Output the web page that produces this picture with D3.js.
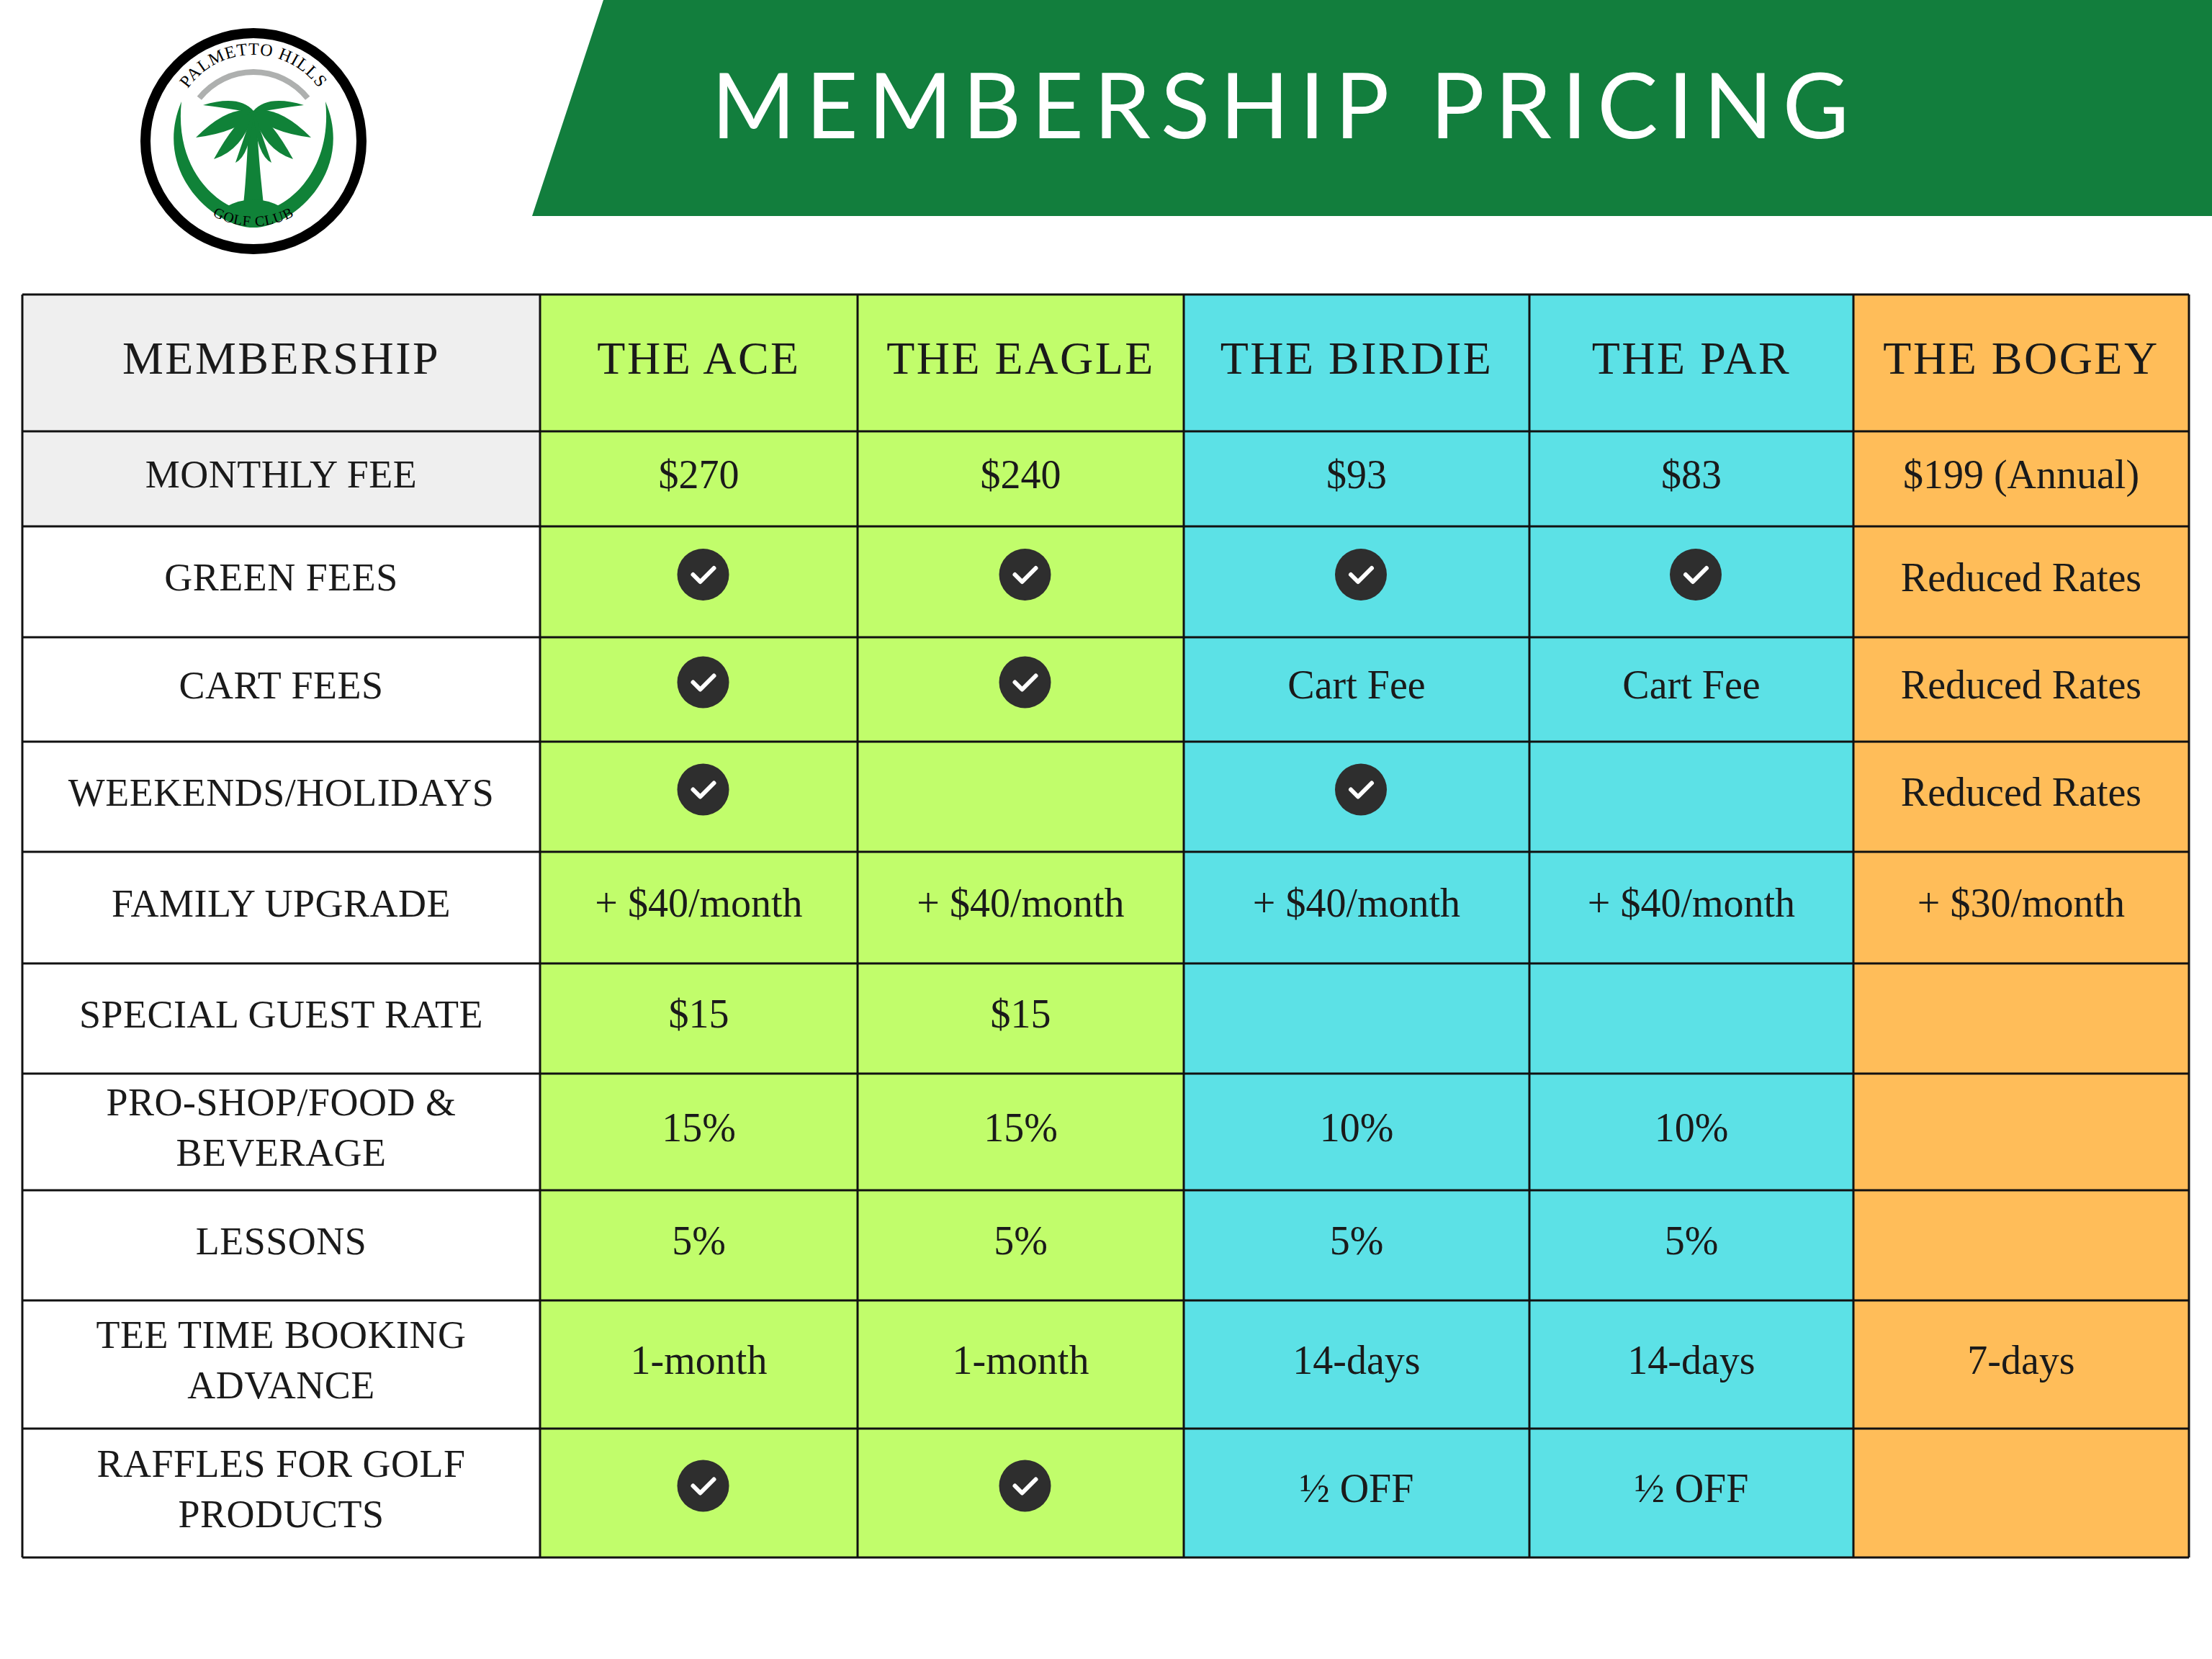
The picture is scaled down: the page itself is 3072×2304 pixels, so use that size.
<!DOCTYPE html>
<html><head><meta charset="utf-8">
<script src="https://cdn.jsdelivr.net/npm/d3@7"></script>
<style>body{margin:0;background:#fff}svg{display:block}</style></head>
<body><script>
const title = "MEMBERSHIP PRICING";
const tiers = ["THE ACE","THE EAGLE","THE BIRDIE","THE PAR","THE BOGEY"];
const tierColors = ["#c1fd6b","#c1fd6b","#5ce1e6","#5ce1e6","#ffbd59"];
const features = ["MONTHLY FEE","GREEN FEES","CART FEES","WEEKENDS/HOLIDAYS","FAMILY UPGRADE","SPECIAL GUEST RATE","PRO-SHOP/FOOD &\nBEVERAGE","LESSONS","TEE TIME BOOKING\nADVANCE","RAFFLES FOR GOLF\nPRODUCTS"];
const aceVals    = ["$270","✓","✓","✓","+ $40/month","$15","15%","5%","1-month","✓"];
const eagleVals  = ["$240","✓","✓","","+ $40/month","$15","15%","5%","1-month","✓"];
const birdieVals = ["$93","✓","Cart Fee","✓","+ $40/month","","10%","5%","14-days","½ OFF"];
const parVals    = ["$83","✓","Cart Fee","","+ $40/month","","10%","5%","14-days","½ OFF"];
const bogeyVals  = ["$199 (Annual)","Reduced Rates","Reduced Rates","Reduced Rates","+ $30/month","","","","7-days",""];
const values = [aceVals,eagleVals,birdieVals,parVals,bogeyVals];

const W=3072,H=2304;
const svg=d3.select("body").append("svg").attr("width",W).attr("height",H);
svg.append("path").attr("d","M838,0L3072,0L3072,300L739,300Z").attr("fill","#127e3d");
svg.append("text").attr("x",1785).attr("y",160).attr("dominant-baseline","middle").attr("text-anchor","middle")
 .attr("font-family","Lato, sans-serif").attr("font-size",126).attr("letter-spacing",14).attr("fill","#fff").text(title);

const lg=svg.append("g").attr("transform","translate(352,196)");
lg.append("circle").attr("r",150).attr("fill","#fff").attr("stroke","#000").attr("stroke-width",14);
lg.append("path").attr("d",d3.arc()({innerRadius:92,outerRadius:100,startAngle:-0.9,endAngle:0.9})).attr("fill","#aeb0af");
lg.append("path").attr("d","M-100,-55 C-140,40 -60,115 -5,120 L5,120 C60,115 140,40 100,-55 C110,40 50,95 0,100 C-50,95 -110,40 -100,-55Z").attr("fill","#108238");
lg.append("path").attr("d","M-6,-40 C-8,10 -10,50 -14,88 L14,88 C10,50 6,10 4,-40Z").attr("fill","#108238");
lg.append("path").attr("d","M-40,92 Q0,70 40,92 L40,105 L-40,105Z").attr("fill","#108238");
const fr=[[-70,-50,-20,-65],[70,-50,20,-65],[-80,-5,-35,-50],[80,-5,35,-50],[-55,25,-25,-30],[55,25,25,-30],[-25,30,-8,-20],[25,30,8,-20]];
fr.forEach(f=>lg.append("path").attr("d",`M0,-42 Q${f[2]},${f[3]} ${f[0]},${f[1]} Q${f[2]*0.6},${(f[3]+f[1])/2+15} 0,-38Z`).attr("fill","#108238"));
lg.append("path").attr("id","ltop").attr("d","M-100,0 A100,100 0 0 1 100,0").attr("fill","none").attr("transform","translate(0,-8) scale(1.12)");
lg.append("text").attr("font-family","Liberation Serif, serif").attr("font-size",24).attr("letter-spacing",1)
 .append("textPath").attr("href","#ltop").attr("startOffset","50%").attr("text-anchor","middle").text("PALMETTO HILLS");
lg.append("path").attr("id","lbot").attr("d","M-118,0 A118,118 0 0 0 118,0").attr("fill","none");
lg.append("text").attr("font-family","Liberation Serif, serif").attr("font-size",20).attr("letter-spacing",1)
 .append("textPath").attr("href","#lbot").attr("startOffset","50%").attr("text-anchor","middle").text("GOLF CLUB");

const colEdges=[31,750,1191,1644,2124,2574,3040];
const rowEdges=[409,599,731,885,1030,1183,1338,1491,1653,1806,1984,2163];
const x0=i=>colEdges[i], x1=i=>colEdges[i+1];
const y0=j=>rowEdges[j], y1=j=>rowEdges[j+1];
const font="Liberation Serif, serif";
const g=svg.append("g");
g.append("rect").attr("x",x0(0)).attr("y",y0(0)).attr("width",x1(0)-x0(0)).attr("height",y1(1)-y0(0)).attr("fill","#efefef");
tiers.forEach((t,i)=>{
  g.append("rect").attr("x",x0(i+1)).attr("y",y0(0)).attr("width",x1(i+1)-x0(i+1)).attr("height",y1(10)-y0(0)).attr("fill",tierColors[i]);
});
const cell=(txt,ci,rj,size,ls)=>{
  const cx=(x0(ci)+x1(ci))/2, cy=(y0(rj)+y1(rj))/2;
  if(txt==="✓"){
    const c=g.append("g").attr("transform",`translate(${cx+6},${cy-10})`);
    c.append("circle").attr("r",36).attr("fill","#2e2e2e");
    c.append("path").attr("d","M-14,0 L-4,10 L15,-9").attr("fill","none").attr("stroke","#fff").attr("stroke-width",6).attr("stroke-linecap","round").attr("stroke-linejoin","round");
    return;
  }
  const lines=txt.split("\n"); const lh=size*1.3;
  const t=g.append("text").attr("text-anchor","middle").attr("font-family",font).attr("font-size",size).attr("letter-spacing",ls).attr("fill","#1a1a1a");
  lines.forEach((l,k)=>t.append("tspan").attr("x",cx).attr("y",cy+(k-(lines.length-1)/2)*lh).attr("dominant-baseline","middle").text(l));
};
cell("MEMBERSHIP",0,0,64,2.5);
tiers.forEach((t,i)=>cell(t,i+1,0,64,2.5));
features.forEach((f,j)=>{
  cell(f,0,j+1,54,0.5);
  values.forEach((v,i)=>cell(v[j],i+1,j+1,56,0));
});
colEdges.forEach(x=>g.append("line").attr("x1",x).attr("x2",x).attr("y1",rowEdges[0]).attr("y2",rowEdges[rowEdges.length-1]).attr("stroke","#111").attr("stroke-width",3));
rowEdges.forEach(y=>g.append("line").attr("x1",colEdges[0]).attr("x2",colEdges[colEdges.length-1]).attr("y1",y).attr("y2",y).attr("stroke","#111").attr("stroke-width",3));
</script></body></html>
